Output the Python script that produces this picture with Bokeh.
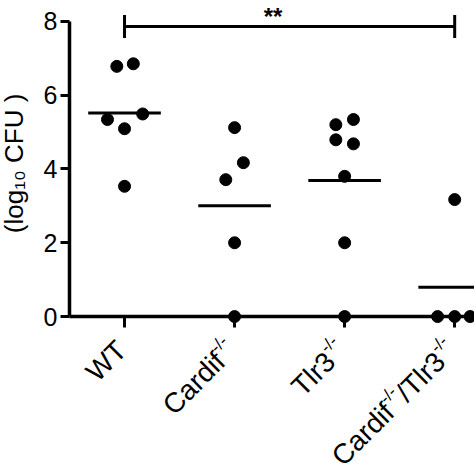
import numpy as np
from math import pi, cos
from bokeh.plotting import figure
from bokeh.models import Range1d, FixedTicker, Label
from bokeh.embed import file_html
from bokeh.resources import INLINE

# ---- data ----
groups = ["WT", "Cardif-/-", "Tlr3-/-", "Cardif-/-/Tlr3-/-"]
# each category label split into (text, is_superscript) pieces
group_pieces = [
    [("WT", False)],
    [("Cardif", False), ("-/-", True)],
    [("Tlr3", False), ("-/-", True)],
    [("Cardif", False), ("-/-", True), ("/Tlr3", False), ("-/-", True)],
]
wt_vals = [6.78, 6.85, 5.34, 5.09, 5.49, 3.53]
cardif_vals = [5.12, 3.71, 4.17, 2.00, 0.00]
tlr3_vals = [5.20, 5.34, 4.79, 4.68, 3.80, 2.00, 0.00]
double_vals = [3.17, 0.00, 0.00, 0.00]
y_ticks = [0, 2, 4, 6, 8]
y_label = "(log₁₀ CFU )"
sig_text = "**"
sig_pair = (0, 3)

# ---- layout (horizontal scatter of the dots, in category widths) ----
jitter = [
    [-0.07, 0.08, -0.155, 0.0, 0.165, 0.0],
    [0.0, -0.08, 0.08, 0.0, 0.0],
    [-0.08, 0.08, -0.08, 0.08, 0.0, 0.0, 0.0],
    [0.0, -0.155, 0.0, 0.14],
]
series = [wt_vals, cardif_vals, tlr3_vals, double_vals]
FONT = "Liberation Sans"
MAIN_PX = 28
SUP_PX = 17
SUP_RAISE = 10
# Arial / Liberation Sans advance widths (em)
W = {"W": .944, "T": .611, "C": .722, "a": .556, "r": .333, "d": .556,
     "i": .222, "f": .278, "l": .222, "3": .556, "/": .278, "-": .333}


def text_w(s, px):
    return sum(W.get(ch, .556) for ch in s) * px


# frame covers the whole canvas; axes are pinned at x=-0.5 and y=0
p = figure(width=474, height=474,
           x_range=Range1d(-1.127, 3.18), y_range=Range1d(-4.28, 8.565),
           output_backend="svg", toolbar_location=None,
           min_border_left=0, min_border_right=0, min_border_top=0,
           min_border_bottom=0)
p.outline_line_color = None
p.xgrid.visible = False
p.ygrid.visible = False
p.background_fill_color = "white"
p.border_fill_color = "white"

xs, ys = [], []
for i, (vals, jit) in enumerate(zip(series, jitter)):
    for v, j in zip(vals, jit):
        xs.append(i + j)
        ys.append(v)
p.scatter(xs, ys, size=12, color="black")

means = [float(np.mean(v)) for v in series]
half = 0.33
p.segment(x0=[i - half for i in range(len(series))], y0=means,
          x1=[i + half for i in range(len(series))], y1=means,
          line_color="black", line_width=3)

# significance bracket
sig_y, cap_lo, cap_hi = 7.86, 7.55, 8.17
a, b = sig_pair
p.segment(x0=[a, a, b], y0=[sig_y, cap_lo, cap_lo],
          x1=[b, a, b], y1=[sig_y, cap_hi, cap_hi],
          line_color="black", line_width=3)
p.add_layout(Label(x=(a + b) / 2 - 0.15, y=8.13, text=sig_text,
                   text_align="center", text_baseline="alphabetic",
                   text_font=FONT, text_font_size="24px",
                   text_font_style="bold", text_color="black"))

xa = p.xaxis[0]
xa.fixed_location = 0
xa.bounds = (-0.5, 3.18)
xa.ticker = FixedTicker(ticks=list(range(len(groups))))
xa.major_label_overrides = {i: "" for i in range(len(groups))}
xa.major_label_text_font_size = "0px"
xa.axis_line_color = "black"
xa.axis_line_width = 3.5
xa.major_tick_in = 0
xa.major_tick_out = 11
xa.major_tick_line_width = 3
xa.minor_tick_line_color = None

# rotated category labels with real superscripts
c = cos(pi / 4)
base_dx, base_dy = -3, 29  # end of label baseline relative to tick (screen, y down)
for i, pieces in enumerate(group_pieces):
    after = 0.0
    for txt, sup in reversed(pieces):
        px = SUP_PX if sup else MAIN_PX
        raise_ = SUP_RAISE if sup else 0
        dx = base_dx - c * after - c * raise_
        dy = base_dy + c * after - c * raise_
        p.add_layout(Label(x=i, y=0, x_offset=dx, y_offset=-dy, text=txt,
                           angle=pi / 4, text_align="right",
                           text_baseline="alphabetic", text_font=FONT,
                           text_font_size=f"{px}px", text_color="black"))
        after += text_w(txt, px)

ya = p.yaxis[0]
ya.fixed_location = -0.5
ya.ticker = FixedTicker(ticks=y_ticks)
ya.bounds = (0, 8)
ya.axis_line_width = 3.5
ya.axis_line_color = "black"
ya.major_tick_in = 0
ya.major_tick_out = 9
ya.major_tick_line_width = 3
ya.minor_tick_line_color = None
ya.major_label_text_font = FONT
ya.major_label_text_font_size = "25px"
ya.major_label_text_color = "black"
ya.major_label_standoff = 3

# y axis title at the left edge
p.add_layout(Label(x=-2, x_units="screen", y=4.15, text=y_label,
                   angle=pi / 2, text_align="center", text_baseline="top",
                   text_font=FONT, text_font_size="26px", text_color="black"))

open("out.html", "w").write(file_html(p, INLINE))
